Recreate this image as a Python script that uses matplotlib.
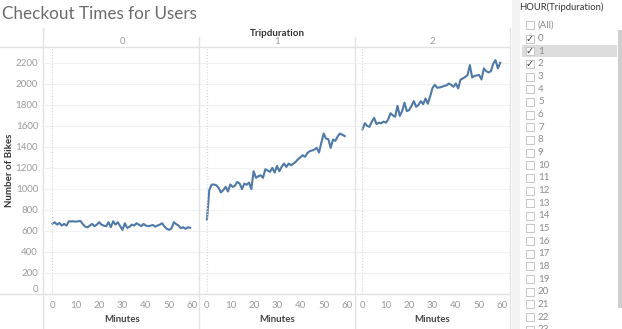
import matplotlib
matplotlib.use("Agg")
import matplotlib.pyplot as plt
from matplotlib.lines import Line2D
from matplotlib.patches import Rectangle

plt.rcParams['font.family'] = ['Lato', 'DejaVu Sans']

# data: bikes checked out per minute, one series per trip hour
minutes = list(range(60))
hour_labels = ['0', '1', '2']
bikes_h0 = [670, 682, 660, 676, 651, 667, 651, 692, 690, 692, 688, 692, 695, 665, 641,
            635, 651, 667, 645, 660, 683, 660, 650, 645, 683, 635, 692, 660, 683, 645,
            610, 673, 629, 640, 660, 651, 673, 660, 645, 667, 651, 645, 650, 657, 641,
            651, 660, 673, 641, 620, 610, 625, 683, 665, 651, 626, 635, 620, 635, 630]
bikes_h1 = [709, 990, 1040, 1042, 1035, 1010, 966, 989, 1019, 975, 1042, 1019, 1030, 1067, 1051,
            998, 1051, 1040, 1060, 998, 1168, 1105, 1120, 1130, 1105, 1187, 1175, 1162, 1200, 1155,
            1219, 1168, 1210, 1241, 1209, 1241, 1225, 1240, 1257, 1282, 1300, 1320, 1305, 1340, 1359,
            1365, 1374, 1390, 1346, 1440, 1527, 1479, 1473, 1390, 1470, 1457, 1500, 1527, 1515, 1502]
bikes_h2 = [1566, 1625, 1600, 1590, 1640, 1676, 1616, 1630, 1625, 1640, 1630, 1660, 1720, 1700, 1686,
            1790, 1695, 1740, 1820, 1740, 1750, 1790, 1835, 1781, 1800, 1835, 1806, 1860, 1810, 1880,
            1960, 1990, 1962, 1965, 1971, 1980, 1985, 2003, 1990, 1971, 2003, 1956, 2040, 2051, 2065,
            2083, 2178, 2060, 2075, 2080, 2083, 2041, 2146, 2120, 2108, 2120, 2190, 2225, 2146, 2200]
series = [bikes_h0, bikes_h1, bikes_h2]

y_ticks = list(range(0, 2201, 200))
x_ticks = list(range(0, 61, 10))
filter_items = [str(h) for h in range(24)]
checked = ['0', '1', '2']

W, H = 622, 329
fig = plt.figure(figsize=(W / 100, H / 100), dpi=100)


def fx(x):
    return x / W


def fy(y):
    return 1 - y / H


line_color = '#4e79a7'
tick_color = '#9a9a9a'
rule_color = '#e2e2e2'

lefts = [45, 199.5, 355]
pw = 155
for i, left in enumerate(lefts):
    ax = fig.add_axes([fx(left), fy(294), pw / W, (294 - 47) / H])
    ax.plot(minutes, series[i], color=line_color, lw=1.5, solid_joinstyle='round')
    ax.set_xlim(-3.2, 63.2)
    ax.set_ylim(0, 2350)
    for s in ax.spines.values():
        s.set_visible(False)
    ax.set_yticks(y_ticks)
    ax.set_xticks(x_ticks)
    ax.grid(axis='y', color='#f1f1f1', lw=0.8)
    ax.axvline(0, color='#d4d4d4', lw=0.8, ls=':')
    ax.tick_params(axis='both', length=0, colors=tick_color, labelsize=7)
    ax.tick_params(axis='x', pad=5)
    ax.tick_params(axis='y', pad=5)
    if i > 0:
        ax.set_yticklabels([])
    else:
        labs = ax.get_yticklabels()
        labs[0].set_va('bottom')
    ax.set_facecolor('none')
    fig.text(fx(left + pw / 2), fy(42), hour_labels[i], ha='center', va='center',
             fontsize=7, color=tick_color)
    fig.text(fx(left + pw / 2), fy(319), 'Minutes', ha='center', va='center',
             fontsize=7, color='#444444', fontweight='bold')

# frame rules of the view
rules = [((0, 510), (47, 47)), ((0, 510), (294, 294)), ((43, 43), (28, 329)),
         ((199, 199), (37, 329)), ((354.5, 354.5), (37, 329)), ((510, 510), (28, 329))]
for xs, ys in rules:
    fig.add_artist(Line2D([fx(xs[0]), fx(xs[1])], [fy(ys[0]), fy(ys[1])],
                          color=rule_color, lw=1))

fig.text(fx(2), fy(14), 'Checkout Times for Users', ha='left', va='center',
         fontsize=12.3, color='#6b6b6b')
fig.text(fx(277), fy(33), 'Tripduration', ha='center', va='center',
         fontsize=7, color='#333333', fontweight='bold')
fig.text(fx(10), fy(170), 'Number of Bikes', ha='center', va='center', rotation=90,
         fontsize=7, color='#333333', fontweight='bold')

# filter card on the right
fig.add_artist(Rectangle((fx(512), 0), 8 / W, 1, color='#f3f3f3', lw=0))
fig.add_artist(Rectangle((fx(618), fy(308)), 3.5 / W, (308 - 30) / H, color='#cfcfcf', lw=0))
fig.text(fx(519), fy(7.5), 'HOUR(Tripduration)', ha='left', va='center',
         fontsize=6.8, color='#333333')

rows = ['(All)'] + filter_items
for j, name in enumerate(rows):
    y = 25.3 if j == 0 else 38.7 + 12.65 * (j - 1)
    if name == '1':
        fig.add_artist(Rectangle((fx(521.5), fy(y + 6)), 95 / W, 12 / H,
                                 color='#dcdcdc', lw=0))
    fig.add_artist(Rectangle((fx(526), fy(y + 4)), 8 / W, 8 / H, facecolor='white',
                             edgecolor='#c6c6c6', lw=0.7))
    if name in checked:
        fig.text(fx(530), fy(y), '\u2713', ha='center', va='center', fontsize=7,
                 color='#333333', family='DejaVu Sans')
    fig.text(fx(538), fy(y), name, ha='left', va='center', fontsize=7, color='#8a8a8a')

fig.savefig('out.png', dpi=100)
